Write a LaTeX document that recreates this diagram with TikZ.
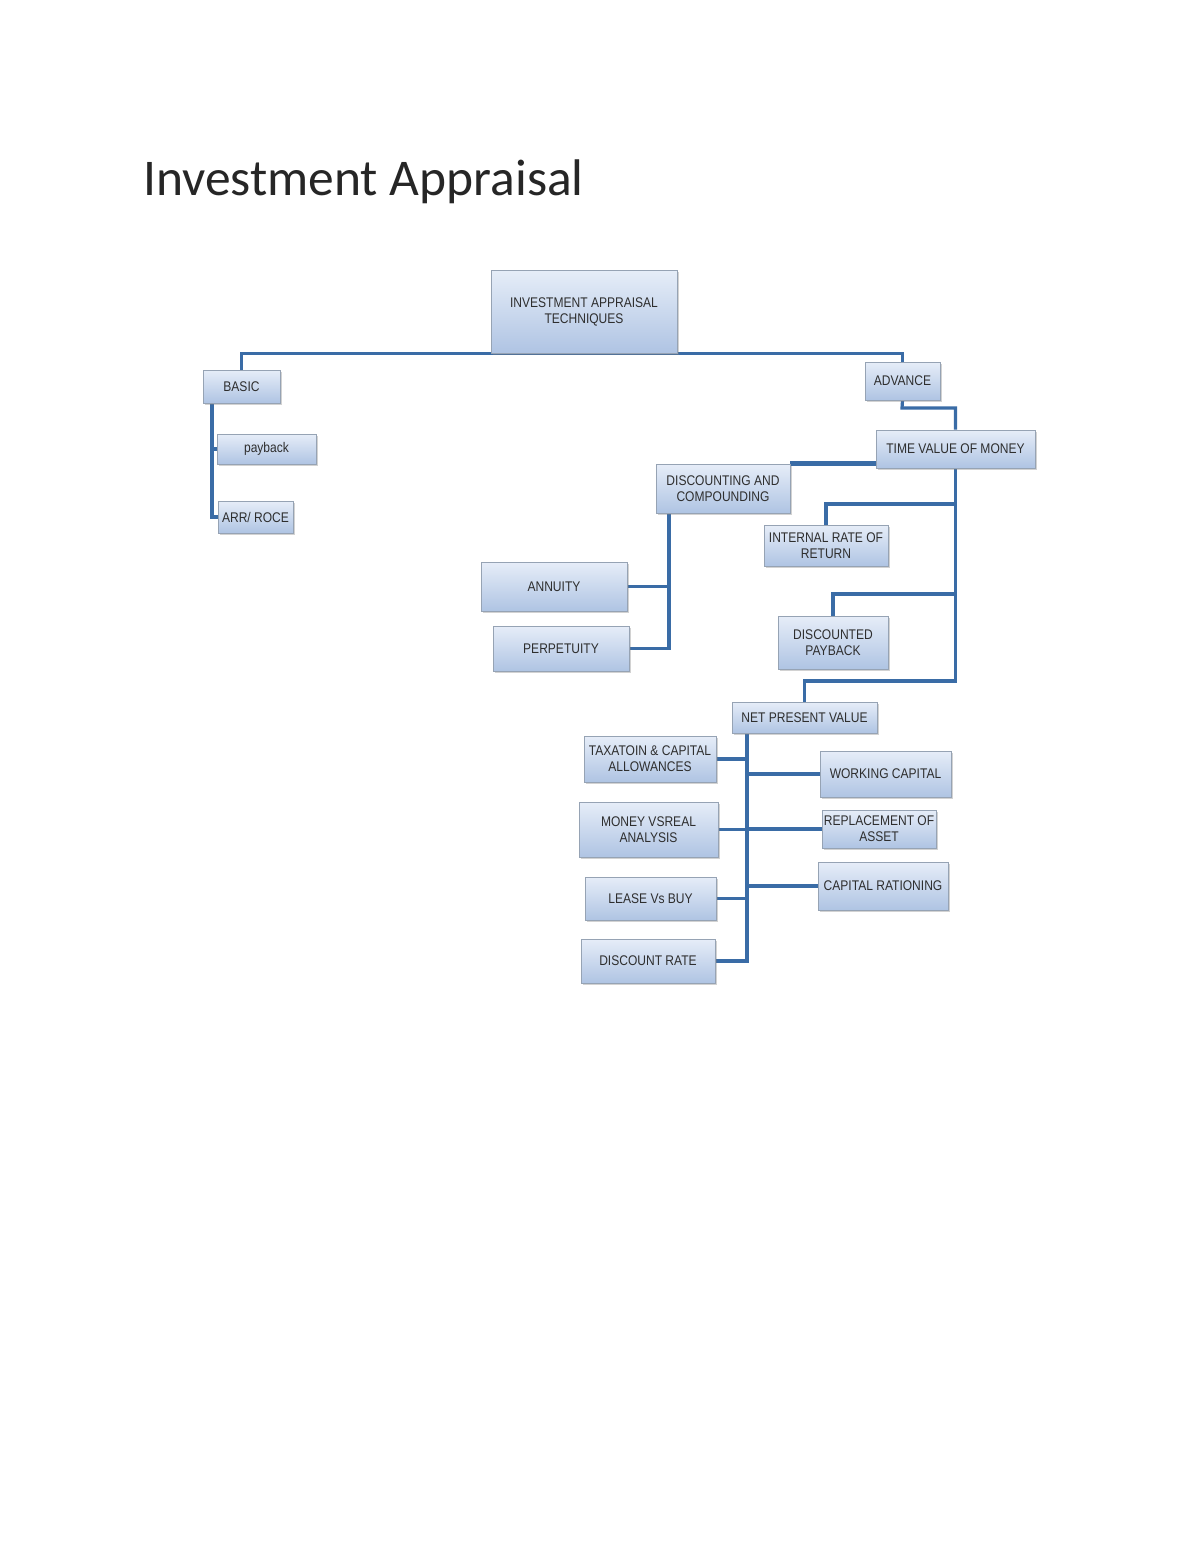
\documentclass[tikz,border=0pt]{standalone}
\usepackage{fontspec}
\setmainfont{Carlito}
\newfontfamily\boxfont[FakeStretch=0.86]{Liberation Sans}
\usetikzlibrary{shadows,backgrounds}
\definecolor{linecol}{HTML}{3A6CA6}
\definecolor{boxtop}{HTML}{E6EDF8}
\definecolor{boxbot}{HTML}{AFC4E3}
\definecolor{boxline}{HTML}{96A3B4}
\definecolor{txt}{HTML}{2E2E2E}
\tikzset{
  box/.style={draw=boxline, line width=0.8pt, top color=boxtop, bottom color=boxbot,
    inner sep=0pt, align=center, text=txt, font=\boxfont\fontsize{14}{16}\selectfont,
    drop shadow={opacity=0.35, shadow xshift=1.5pt, shadow yshift=-2pt}},
  conn/.style={draw=linecol, line width=3.2pt},
}
\newcommand{\bx}[6]{% name, x1, y1, x2, y2, text
  \node[box, minimum width={#4-#2}, minimum height={#5-#3}] (#1) at ({(#2+#4)/2},{(#3+#5)/2}) {#6};}
\begin{document}
\begin{tikzpicture}[x=1pt,y=-1pt]
\useasboundingbox (0,0) rectangle (1200,1553);
\node[anchor=base west, font=\fontsize{51.5}{56}\selectfont, text=black!85, inner sep=0pt] (title) at (143,195) {Investment Appraisal};

\bx{root}{491}{270}{677}{353}{INVESTMENT APPRAISAL\\TECHNIQUES}
\bx{basic}{203}{370}{280}{403}{BASIC}
\bx{payback}{217}{434}{316}{464}{payback}
\bx{arr}{218}{501}{293}{533}{ARR/ ROCE}
\bx{advance}{865}{362}{940}{400}{ADVANCE}
\bx{tvm}{876}{430}{1035}{468}{TIME VALUE OF MONEY}
\bx{disc}{656}{464}{790}{513}{DISCOUNTING AND\\COMPOUNDING}
\bx{irr}{764}{525}{888}{566}{INTERNAL RATE OF\\RETURN}
\bx{dpb}{778}{616}{888}{669}{DISCOUNTED\\PAYBACK}
\bx{annuity}{481}{562}{627}{611}{ANNUITY}
\bx{perp}{493}{626}{629}{671}{PERPETUITY}
\bx{npv}{732}{702}{877}{733}{NET PRESENT VALUE}
\bx{tax}{584}{736}{716}{782}{TAXATOIN \& CAPITAL\\ALLOWANCES}
\bx{money}{579}{802}{718}{857}{MONEY VSREAL\\ANALYSIS}
\bx{lease}{585}{877}{716}{920}{LEASE Vs BUY}
\bx{drate}{581}{939}{715}{983}{DISCOUNT RATE}
\bx{wc}{820}{751}{951}{797}{WORKING CAPITAL}
\bx{repl}{822}{810}{936}{848}{REPLACEMENT OF\\ASSET}
\bx{caprat}{818}{862}{948}{910}{CAPITAL RATIONING}

\coordinate (bv) at (212,403);
\coordinate (dv) at (669,513);
\coordinate (nv) at (747,733);
\coordinate (tj1) at (955.5,504);
\coordinate (tj2) at (955.5,594);
\coordinate (tj3) at (955.5,681);
\coordinate (aj) at (902,408);

\begin{scope}[on background layer]
\fill[white] (0,0) rectangle (1200,1553);
\draw[conn] (basic.north) |- (root.south) -| (advance.north);
\draw[conn] (bv) |- (payback.west);
\draw[conn] (bv) |- (arr.west);
\draw[conn] (advance.south) -- (aj) -| (tvm.north);
\draw[conn, line width=4.5pt] (disc.north east) -- (disc.north east -| tvm.west);
\draw[conn] (tvm.south) -- (tj3) -| (npv.north);
\draw[conn] (tj1) -| (irr.north);
\draw[conn] (tj2) -| (dpb.north);
\draw[conn] (dv) |- (annuity.east);
\draw[conn] (dv) |- (perp.east);
\draw[conn] (nv) |- (drate.east);
\draw[conn] (nv |- tax.east) -- (tax.east);
\draw[conn] (nv |- money.east) -- (money.east);
\draw[conn] (nv |- lease.east) -- (lease.east);
\draw[conn] (nv |- wc.west) -- (wc.west);
\draw[conn] (nv |- repl.west) -- (repl.west);
\draw[conn] (nv |- caprat.west) -- (caprat.west);
\end{scope}
\end{tikzpicture}
\end{document}
